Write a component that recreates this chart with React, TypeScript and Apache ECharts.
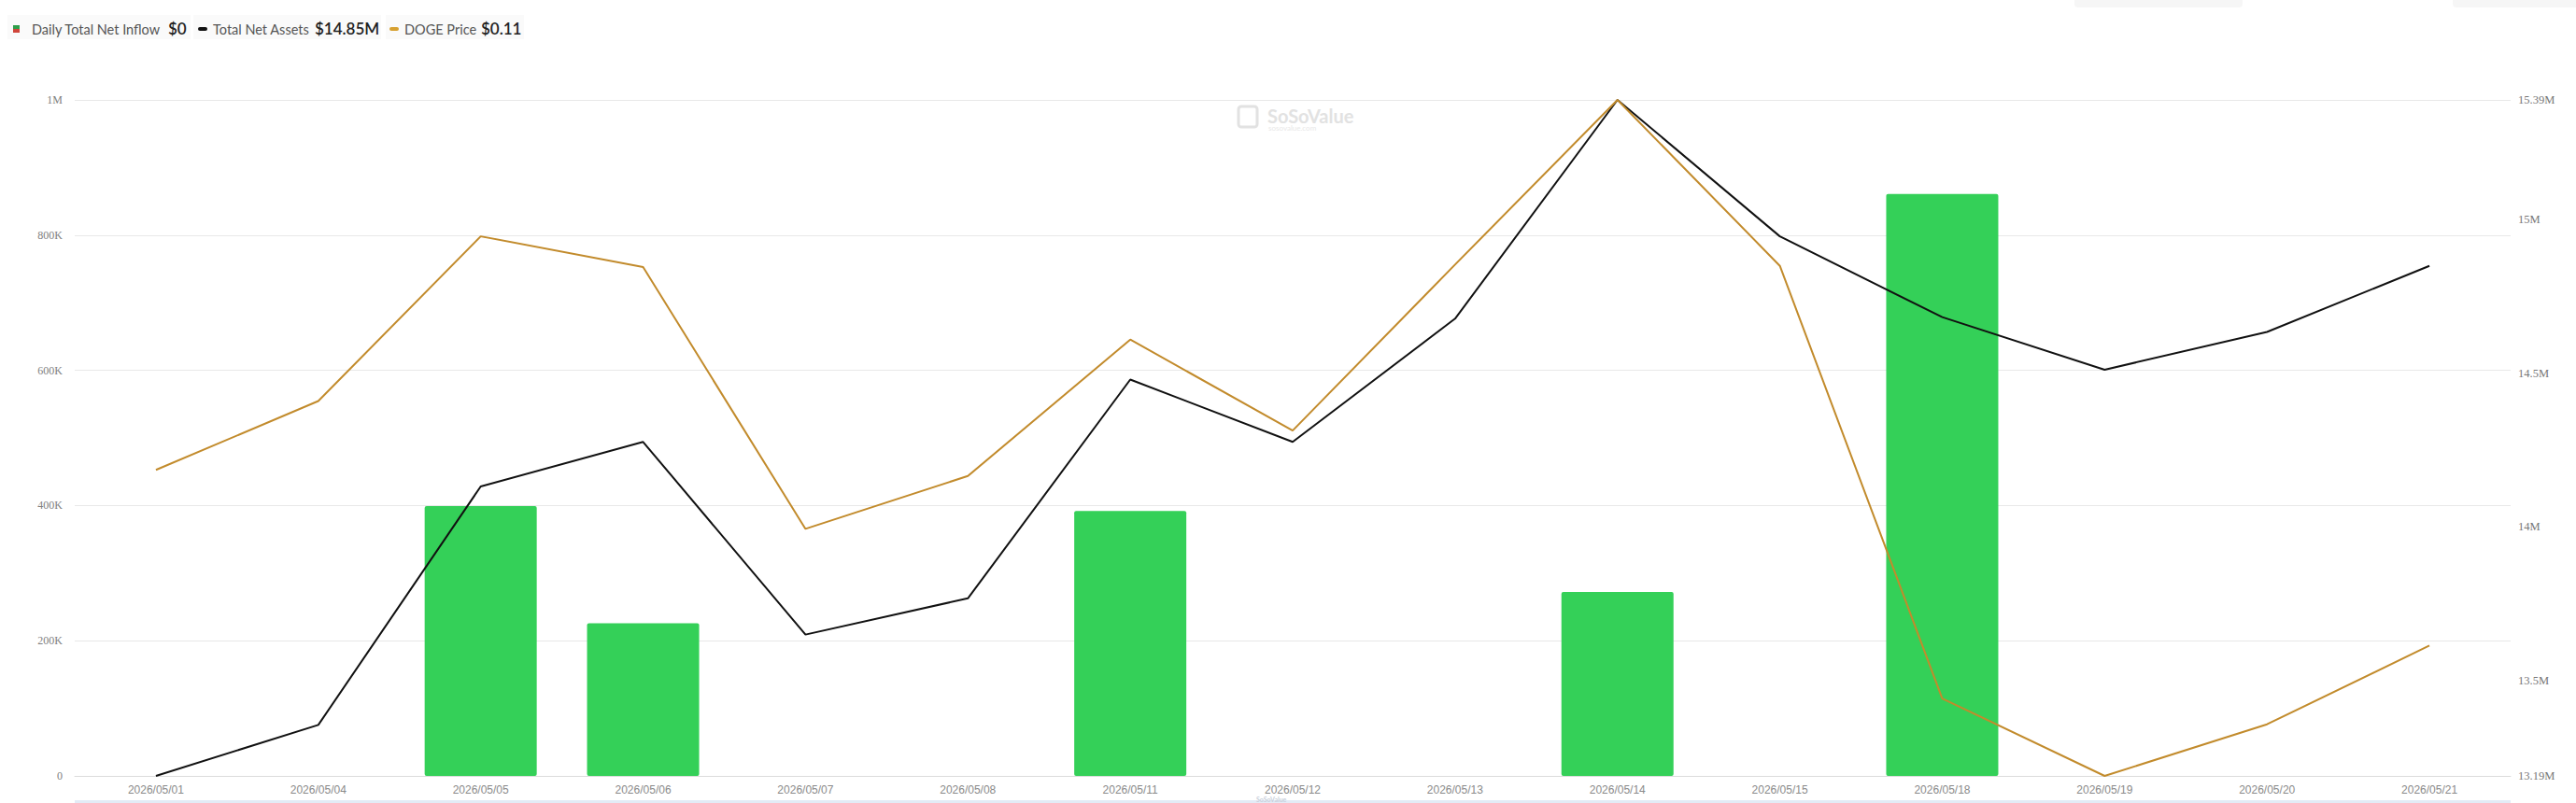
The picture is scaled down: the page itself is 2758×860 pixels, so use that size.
import React, { useEffect, useRef } from "react";
import * as echarts from "echarts";

const categories = [
  "2026/05/01", "2026/05/04", "2026/05/05", "2026/05/06", "2026/05/07",
  "2026/05/08", "2026/05/11", "2026/05/12", "2026/05/13", "2026/05/14",
  "2026/05/15", "2026/05/18", "2026/05/19", "2026/05/20", "2026/05/21",
];

const dailyNetInflow = [0, 0, 399000, 226000, 0, 0, 392000, 0, 0, 272000, 0, 861000, 0, 0, 0];

const totalNetAssets = [
  13.19e6, 13.356e6, 14.132e6, 14.277e6, 13.65e6, 13.768e6, 14.48e6, 14.277e6,
  14.678e6, 15.39e6, 14.946e6, 14.683e6, 14.512e6, 14.635e6, 14.85e6,
];

const dogePrice = [
  0.1234, 0.129, 0.1424, 0.1399, 0.1186, 0.1229, 0.134, 0.1266, 0.1401,
  0.1535, 0.14, 0.1048, 0.0985, 0.1027, 0.1091,
];

const leftTicks = [0, 200000, 400000, 600000, 800000, 1000000];
const rightTicks = [13.19e6, 13.5e6, 14e6, 14.5e6, 15e6, 15.39e6];

const fmtLeft = (v: number) => (v >= 1e6 ? v / 1e6 + "M" : v === 0 ? "0" : v / 1000 + "K");
const fmtRight = (v: number) => +(v / 1e6).toFixed(2) + "M";

export default function App() {
  const ref = useRef<HTMLDivElement>(null);
  useEffect(() => {
    if (!ref.current) return;
    const chart = echarts.init(ref.current, null, { renderer: "svg" });
    const sans = "Lato, 'Noto Sans', sans-serif";
    const serif = "'Liberation Serif', 'DejaVu Serif', serif";
    chart.setOption({
      animation: false,
      backgroundColor: "#ffffff",
      grid: { left: 80, right: 70, top: 107, bottom: 29, containLabel: false, outerBoundsMode: "none" },
      xAxis: {
        type: "category",
        data: categories,
        boundaryGap: true,
        axisLine: { lineStyle: { color: "#dcdcdc" } },
        axisTick: { show: false },
        axisLabel: { color: "#8a8a8a", fontSize: 12, margin: 9, fontFamily: "'Liberation Sans', Arial, sans-serif" },
      },
      yAxis: [
        {
          type: "value",
          min: 0,
          max: 1000000,
          interval: 200000,
          position: "left",
          axisLine: { show: false },
          axisTick: { show: false },
          splitLine: { lineStyle: { color: "#e8e8e8" } },
          axisLabel: {
            color: "#808080",
            fontSize: 12,
            fontFamily: serif,
            margin: 13,
            customValues: leftTicks,
            formatter: (v: number) => fmtLeft(v),
          },
        },
        {
          type: "value",
          min: rightTicks[0],
          max: rightTicks[rightTicks.length - 1],
          position: "right",
          axisLine: { show: false },
          axisTick: { show: false },
          splitLine: { show: false },
          axisLabel: {
            color: "#777777",
            fontSize: 12.5,
            fontFamily: serif,
            margin: 8,
            customValues: rightTicks,
            formatter: (v: number) => fmtRight(v),
          },
        },
        {
          type: "value",
          min: "dataMin",
          max: "dataMax",
          show: false,
          position: "right",
          splitLine: { show: false },
        },
      ],
      series: [
        {
          name: "Daily Total Net Inflow",
          type: "bar",
          yAxisIndex: 0,
          data: dailyNetInflow,
          barWidth: 120,
          itemStyle: { color: "#34d058", borderRadius: 2 },
        },
        {
          name: "Total Net Assets",
          type: "line",
          yAxisIndex: 1,
          data: totalNetAssets,
          symbol: "none",
          lineStyle: { color: "#111111", width: 2 },
          z: 3,
        },
        {
          name: "DOGE Price",
          type: "line",
          yAxisIndex: 2,
          data: dogePrice,
          symbol: "none",
          lineStyle: { color: "#c28b2c", width: 2 },
          z: 4,
        },
      ],
      graphic: [
        { type: "rect", shape: { x: 2221, y: -10, width: 180, height: 18, r: 4 }, style: { fill: "#f6f6f6" }, silent: true },
        { type: "rect", shape: { x: 2626, y: -10, width: 140, height: 18, r: 4 }, style: { fill: "#f6f6f6" }, silent: true },
        { type: "rect", shape: { x: 8, y: 16, width: 196, height: 26 }, style: { fill: "#fafafa" }, silent: true },
        { type: "rect", shape: { x: 207, y: 16, width: 201, height: 26 }, style: { fill: "#fafafa" }, silent: true },
        { type: "rect", shape: { x: 413, y: 16, width: 148, height: 26 }, style: { fill: "#fafafa" }, silent: true },
        { type: "rect", shape: { x: 14, y: 27, width: 7, height: 4 }, style: { fill: "#2e9e4a" }, silent: true },
        { type: "rect", shape: { x: 14, y: 31, width: 7, height: 4 }, style: { fill: "#d0453b" }, silent: true },
        { type: "rect", shape: { x: 212, y: 29, width: 10, height: 4, r: 2 }, style: { fill: "#111111" }, silent: true },
        { type: "rect", shape: { x: 417, y: 29, width: 10, height: 4, r: 2 }, style: { fill: "#d6a030" }, silent: true },
        { type: "text", x: 34, y: 31, style: { text: "Daily Total Net Inflow", fill: "#555555", font: "14.5px " + sans, verticalAlign: "middle" }, silent: true },
        { type: "text", x: 180, y: 30, style: { text: "$0", fill: "#222222", font: "600 17px " + sans, verticalAlign: "middle" }, silent: true },
        { type: "text", x: 228, y: 31, style: { text: "Total Net Assets", fill: "#555555", font: "14.5px " + sans, verticalAlign: "middle" }, silent: true },
        { type: "text", x: 337, y: 30, style: { text: "$14.85M", fill: "#222222", font: "600 17px " + sans, verticalAlign: "middle" }, silent: true },
        { type: "text", x: 433, y: 31, style: { text: "DOGE Price", fill: "#555555", font: "14.5px " + sans, verticalAlign: "middle" }, silent: true },
        { type: "text", x: 515, y: 30, style: { text: "$0.11", fill: "#222222", font: "600 17px " + sans, verticalAlign: "middle" }, silent: true },
        { type: "rect", shape: { x: 1326, y: 114, width: 20, height: 22, r: 3 }, style: { fill: "none", stroke: "#e2e2e2", lineWidth: 3 }, silent: true },
        { type: "text", x: 1357, y: 124, style: { text: "SoSoValue", fill: "#e2e2e2", font: "bold 20px " + sans, verticalAlign: "middle" }, silent: true },
        { type: "text", x: 1358, y: 137, style: { text: "sosovalue.com", fill: "#e8e8e8", font: "8px " + sans, verticalAlign: "middle" }, silent: true },
        { type: "rect", shape: { x: 80, y: 857, width: 2608, height: 10 }, style: { fill: "#e3ebf6" }, silent: true },
        { type: "text", x: 1345, y: 852, style: { text: "SoSoValue", fill: "#c9d0db", font: "bold 7px " + sans, verticalAlign: "top" }, silent: true },
      ],
    });
    return () => chart.dispose();
  }, []);
  return <div ref={ref} style={{ position: "absolute", left: 0, top: 0, width: 2758, height: 860 }} />;
}
